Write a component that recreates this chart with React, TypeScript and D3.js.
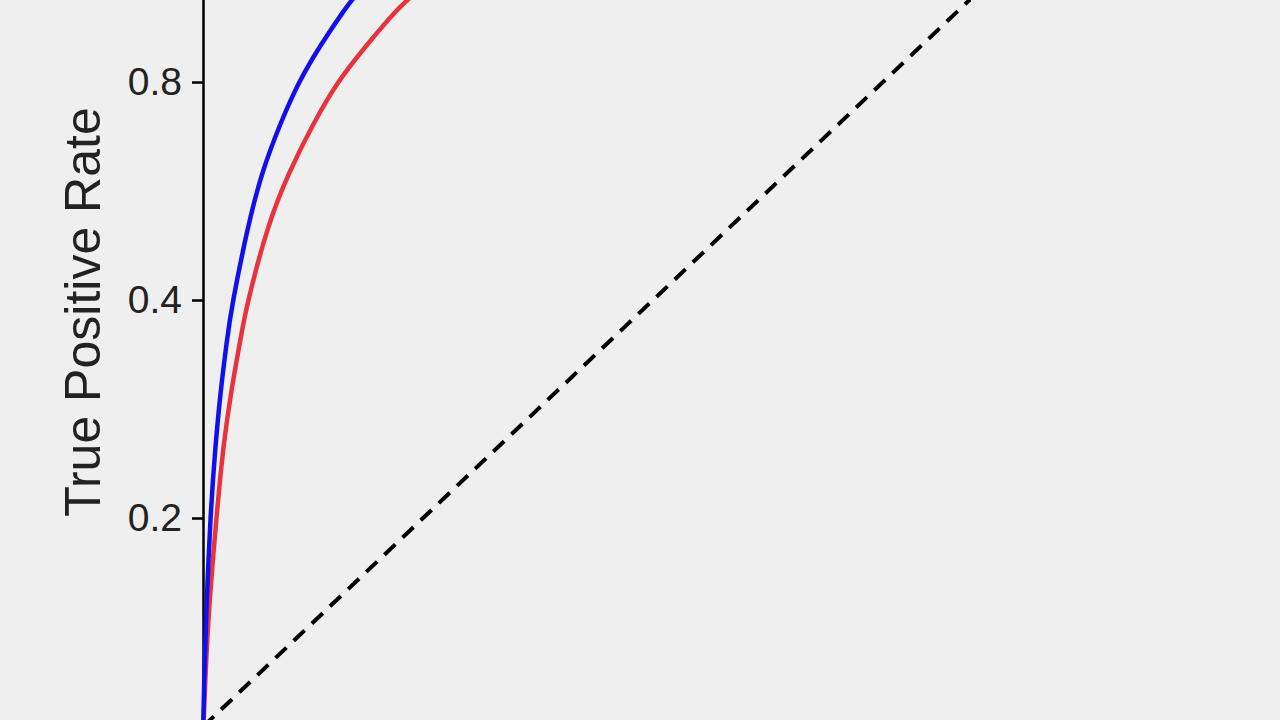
import * as d3 from "d3";
import React, { useEffect, useRef } from "react";

// ROC curves (FPR on x, TPR on log y)
const tprLevels = [0.1, 0.12, 0.15, 0.2, 0.25, 0.3, 0.35, 0.4, 0.5, 0.6, 0.7, 0.8, 0.9, 1.0, 1.05];
const fprBlue = [0, 0.0017, 0.0045, 0.0099, 0.0162, 0.0233, 0.031, 0.0395, 0.0581, 0.0778, 0.101, 0.1258, 0.1538, 0.1827, 0.198];
const fprRed = [0, 0.0031, 0.0081, 0.0176, 0.0267, 0.0372, 0.0482, 0.0593, 0.0841, 0.1128, 0.1441, 0.1767, 0.2138, 0.251, 0.2718];

// chance line
const chanceFpr = [0, 1];
const chanceTpr = [0.103, 1.04];

const yTicks = [0.2, 0.4, 0.8];
const yTitle = "True Positive Rate";

const W = 1280;
const H = 720;

const App: React.FC = () => {
  const ref = useRef<SVGSVGElement>(null);

  useEffect(() => {
    const svg = d3.select(ref.current).html("");

    svg.append("rect").attr("width", W).attr("height", H).attr("fill", "#efefef");

    const x = d3.scaleLinear().domain([0, 1]).range([203, 970]);
    const y = d3.scaleLog().domain([0.1, 1.05]).range([736, -3.5]);

    // Y 축
    const axis = svg
      .append("g")
      .attr("transform", `translate(${x(0)},0)`)
      .call(
        d3
          .axisLeft(y)
          .tickValues(yTicks)
          .tickFormat((d) => d3.format(".1f")(d as number))
          .tickSize(11)
          .tickSizeOuter(0)
          .tickPadding(10)
      );
    axis.select(".domain").attr("stroke", "#000").attr("stroke-width", 2.5);
    axis.selectAll(".tick line").attr("stroke", "#000").attr("stroke-width", 2.5);
    axis
      .selectAll(".tick text")
      .attr("font-family", "'Liberation Sans', Arial, sans-serif")
      .attr("font-size", 39)
      .attr("fill", "#222");

    svg
      .append("text")
      .attr("transform", `translate(100,312) rotate(-90)`)
      .attr("text-anchor", "middle")
      .attr("font-family", "'Liberation Sans', Arial, sans-serif")
      .attr("font-size", 50)
      .attr("fill", "#222")
      .text(yTitle);

    // 대각선
    const chance = chanceFpr.map((f, i) => [f, chanceTpr[i]] as [number, number]);
    svg
      .append("path")
      .datum(chance)
      .attr("fill", "none")
      .attr("stroke", "#000")
      .attr("stroke-width", 4)
      .attr("stroke-dasharray", "15,10")
      .attr("d", d3.line<[number, number]>().x((d) => x(d[0])).y((d) => y(d[1])));

    const line = d3
      .line<[number, number]>()
      .x((d) => x(d[0]))
      .y((d) => y(d[1]))
      .curve(d3.curveNatural);

    const series = [
      { fpr: fprRed, color: "#e8323c" },
      { fpr: fprBlue, color: "#1010ee" },
    ];
    series.forEach((s) => {
      svg
        .append("path")
        .datum(s.fpr.map((f, i) => [f, tprLevels[i]] as [number, number]))
        .attr("fill", "none")
        .attr("stroke", s.color)
        .attr("stroke-width", 4.5)
        .attr("d", line);
    });
  }, []);

  return (
    <svg
      ref={ref}
      width={W}
      height={H}
      style={{ position: "absolute", left: 0, top: 0, display: "block" }}
    ></svg>
  );
};

export default App;
